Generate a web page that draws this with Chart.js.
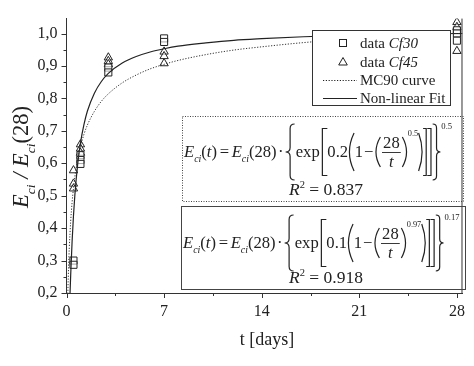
<!DOCTYPE html>
<html><head><meta charset="utf-8">
<script src="https://cdn.jsdelivr.net/npm/chart.js@4.4.0/dist/chart.umd.min.js"></script>
<style>html,body{margin:0;padding:0;background:#fff}#wrap{width:474px;height:366px}</style>
</head><body><div id="wrap"><canvas id="c" width="474" height="366"></canvas></div>
<script>
// ---- data ----
const cf30Days = [0.5, 0.5, 1, 1, 1, 3, 3, 7, 7, 28, 28, 28];
const cf30Vals = [0.30, 0.287, 0.625, 0.61, 0.598, 0.895, 0.88, 0.985, 0.974, 1.01, 1.0, 0.978];
const cf45Days = [0.5, 0.5, 0.5, 1, 1, 1, 3, 3, 3, 7, 7, 7, 28, 28, 28];
const cf45Vals = [0.578, 0.537, 0.522, 0.658, 0.645, 0.632, 0.926, 0.915, 0.905, 0.944, 0.93, 0.908, 1.035, 1.02, 0.946];
const fitDays = [0.25, 0.3, 0.4, 0.5, 0.6, 0.8, 1, 1.25, 1.5, 2, 2.5, 3, 4, 5, 6, 7, 8, 10, 12, 14, 17, 20, 24, 28, 28.4];
const fitVals = [0.195, 0.255, 0.357, 0.438, 0.502, 0.596, 0.662, 0.719, 0.761, 0.816, 0.852, 0.877, 0.909, 0.929, 0.943, 0.953, 0.961, 0.971, 0.979, 0.984, 0.990, 0.994, 0.997, 1.0, 1.0];
const mcDays = [0.09, 0.1, 0.15, 0.2, 0.3, 0.4, 0.5, 0.6, 0.8, 1, 1.25, 1.5, 2, 2.5, 3, 4, 5, 6, 7, 8, 10, 12, 14, 17, 20, 24, 28, 28.4];
const mcVals = [0.189, 0.207, 0.282, 0.339, 0.421, 0.479, 0.523, 0.558, 0.612, 0.651, 0.689, 0.718, 0.760, 0.791, 0.814, 0.848, 0.872, 0.891, 0.905, 0.917, 0.935, 0.949, 0.959, 0.972, 0.982, 0.992, 1.0, 1.0];
const xTicks = [0, 7, 14, 21, 28];
const xMinor = [3.5, 10.5, 17.5, 24.5];
const yTicks = [0.2, 0.3, 0.4, 0.5, 0.6, 0.7, 0.8, 0.9, 1.0];
const yMinor = [0.25, 0.35, 0.45, 0.55, 0.65, 0.75, 0.85, 0.95];
const legendLabels = [["data ", "Cf30"], ["data ", "Cf45"], ["MC90 curve", ""], ["Non-linear Fit", ""]];
const r2Values = ["0.837", "0.918"];

const FONT = "'Liberation Serif','Times New Roman',serif";
const INK = '#222';
const pts = (xs, ys) => xs.map((x, i) => ({x, y: ys[i]}));
const f = (it, px) => (it ? 'italic ' : '') + px.toFixed(2) + 'px ' + FONT;

// ---- equation helpers ----
function bracket(ctx, kind, x, yc, h, w) {
  const t = yc - h / 2, b = yc + h / 2;
  const close = kind === ')' || kind === ']' || kind === '}';
  ctx.save();
  if (close) { ctx.translate(x + w, 0); ctx.scale(-1, 1); x = 0; }
  ctx.beginPath();
  ctx.lineWidth = 1.2;
  const k = close ? {')':'(', ']':'[', '}':'{'}[kind] : kind;
  if (k === '(') {
    const xe = x + 0.9 * w;
    ctx.moveTo(xe, t);
    ctx.quadraticCurveTo(x - 0.5 * w, yc, xe, b);
  } else if (k === '[') {
    ctx.moveTo(x + w, t); ctx.lineTo(x + 0.25 * w, t); ctx.lineTo(x + 0.25 * w, b); ctx.lineTo(x + w, b);
  } else {
    const xm = x + 0.5 * w, xl = x + 0.05 * w, xr = x + 0.95 * w, c = 0.45 * w;
    ctx.moveTo(xr, t);
    ctx.quadraticCurveTo(xm, t, xm, t + c);
    ctx.lineTo(xm, yc - c);
    ctx.quadraticCurveTo(xm, yc, xl, yc);
    ctx.quadraticCurveTo(xm, yc, xm, yc + c);
    ctx.lineTo(xm, b - c);
    ctx.quadraticCurveTo(xm, b, xr, b);
  }
  ctx.stroke();
  ctx.restore();
}
function tokW(ctx, k, S) {
  if (k.t === 'br' || k.t === 'sp') return k.w * S;
  if (k.t === 'frac') {
    ctx.font = f(false, S); const a = ctx.measureText(k.num).width;
    ctx.font = f(true, S); const b = ctx.measureText(k.den).width;
    return Math.max(a, b) + 0.25 * S;
  }
  ctx.font = f(!!k.it, S * (k.sc || 1));
  return ctx.measureText(k.s).width;
}
function drawTokens(ctx, toks, x0, yA, S) {
  let x = x0;
  const base = yA + 0.28 * S;
  for (const k of toks) {
    const w = tokW(ctx, k, S);
    if (k.t === 'sp') { /* gap */ }
    else if (k.t === 'br') bracket(ctx, k.s, x, yA, k.h, w);
    else if (k.t === 'frac') {
      ctx.font = f(false, S); ctx.textAlign = 'center';
      ctx.fillText(k.num, x + w / 2, yA - 0.22 * S);
      ctx.font = f(true, S);
      ctx.fillText(k.den, x + w / 2, yA + 0.9 * S);
      ctx.beginPath(); ctx.lineWidth = 0.9;
      ctx.moveTo(x + 0.06 * S, yA + 0.5); ctx.lineTo(x + w - 0.06 * S, yA + 0.5); ctx.stroke();
      ctx.textAlign = 'left';
    } else {
      ctx.font = f(!!k.it, S * (k.sc || 1));
      ctx.fillText(k.s, x, base + (k.dy || 0) * S);
    }
    x += w;
  }
  return x - x0;
}
const sp = w => ({t:'sp', w});
function eqTokens(c1, pin, pout) {
  return [
    {s:'E', it:1}, {s:'ci', it:1, sc:0.6, dy:0.3}, {s:'('}, {s:'t', it:1}, {s:')'}, sp(0.16), {s:'='}, sp(0.16),
    {s:'E', it:1}, {s:'ci', it:1, sc:0.6, dy:0.3}, {s:'(28)'}, sp(0.08), {s:'·'}, sp(0.1),
    {t:'br', s:'{', h:56, w:0.6}, sp(0.04), {s:'exp'}, sp(0.06), {t:'br', s:'[', h:47, w:0.4}, {s:c1},
    {t:'br', s:'(', h:38, w:0.4}, {s:'1'}, sp(0.06), {s:'−'}, sp(0.08), {t:'br', s:'(', h:30, w:0.38},
    {t:'frac', num:'28', den:'t'}, {t:'br', s:')', h:30, w:0.36}, {s:pin, sc:0.5, dy:-1.22},
    {t:'br', s:')', h:38, w:0.3}, {t:'br', s:']', h:47, w:0.25}, {t:'br', s:']', h:47, w:0.3},
    {t:'br', s:'}', h:56, w:0.52}, sp(0.03), {s:pout, sc:0.52, dy:-1.64}
  ];
}

const deco = {
  id: 'deco',
  afterDraw(chart) {
    const ctx = chart.ctx, xs = chart.scales.x, ys = chart.scales.y, a = chart.chartArea;
    ctx.save();
    ctx.strokeStyle = '#333'; ctx.fillStyle = INK; ctx.lineWidth = 1;
    // right frame
    ctx.beginPath(); ctx.moveTo(a.right - 0.5, a.top); ctx.lineTo(a.right - 0.5, a.bottom); ctx.stroke();
    // tick marks
    ctx.beginPath();
    yTicks.forEach(v => { const y = Math.round(ys.getPixelForValue(v)) + 0.5; ctx.moveTo(a.left - 5, y); ctx.lineTo(a.left, y); });
    yMinor.forEach(v => { const y = Math.round(ys.getPixelForValue(v)) + 0.5; ctx.moveTo(a.left - 3, y); ctx.lineTo(a.left, y); });
    xTicks.forEach(v => { const x = Math.round(xs.getPixelForValue(v)) + 0.5; ctx.moveTo(x, a.bottom); ctx.lineTo(x, a.bottom + 5); });
    xMinor.forEach(v => { const x = Math.round(xs.getPixelForValue(v)) + 0.5; ctx.moveTo(x, a.bottom); ctx.lineTo(x, a.bottom + 3); });
    ctx.stroke();

    // axis titles
    ctx.textBaseline = 'alphabetic';
    ctx.font = f(false, 18);
    ctx.textAlign = 'center';
    ctx.fillText('t [days]', 267, 345);
    ctx.textAlign = 'left';
    const yt = [{s:'E', it:1}, {s:'ci', it:1, sc:0.6, dy:0.3}, {s:' / ', it:1}, {s:'E', it:1}, {s:'ci', it:1, sc:0.6, dy:0.3}, {s:'(28)'}];
    let tw = 0; yt.forEach(k => tw += tokW(ctx, k, 22.5));
    ctx.save(); ctx.translate(20, 157); ctx.rotate(-Math.PI / 2);
    drawTokens(ctx, yt, -tw / 2, 1.5, 22.5);
    ctx.restore();

    // legend
    ctx.fillStyle = '#fff'; ctx.fillRect(312, 30, 139, 75);
    ctx.strokeStyle = '#333'; ctx.lineWidth = 1;
    ctx.strokeRect(312.5, 30.5, 138, 75);
    ctx.fillStyle = INK; ctx.strokeStyle = INK;
    const rows = [43, 62, 80, 98];
    ctx.strokeRect(339.5, rows[0] - 3.5, 7, 7);
    ctx.beginPath(); ctx.moveTo(343, rows[1] - 4.5); ctx.lineTo(347.3, rows[1] + 3); ctx.lineTo(338.7, rows[1] + 3); ctx.closePath(); ctx.stroke();
    ctx.save(); ctx.setLineDash([1.2, 1.6]); ctx.beginPath(); ctx.moveTo(323, rows[2] + 0.5); ctx.lineTo(357, rows[2] + 0.5); ctx.stroke(); ctx.restore();
    ctx.beginPath(); ctx.lineWidth = 1.2; ctx.moveTo(323, rows[3] + 0.5); ctx.lineTo(357, rows[3] + 0.5); ctx.stroke();
    ctx.textBaseline = 'middle';
    legendLabels.forEach((l, i) => {
      ctx.font = f(false, 15); ctx.fillText(l[0], 360, rows[i] + 1);
      if (l[1]) { const w = ctx.measureText(l[0]).width; ctx.font = f(true, 15); ctx.fillText(l[1], 360 + w, rows[i] + 1); }
    });
    ctx.textBaseline = 'alphabetic';

    // equation boxes
    ctx.lineWidth = 1; ctx.strokeStyle = '#444';
    ctx.save(); ctx.setLineDash([1, 1.5]); ctx.strokeRect(182.5, 116.5, 281, 85); ctx.restore();
    ctx.strokeRect(181.5, 206.5, 284, 83);
    ctx.strokeStyle = INK; ctx.fillStyle = INK;
    drawTokens(ctx, eqTokens('0.2', '0.5', '0.5'), 184, 152, 16.6);
    drawTokens(ctx, eqTokens('0.1', '0.97', '0.17'), 183, 243, 16.6);
    // R^2 lines
    [[195, 0], [283, 1]].forEach(([yb, i]) => {
      const toks = [{s:'R', it:1}, {s:'2', sc:0.6, dy:-0.42}, sp(0.25), {s:'='}, sp(0.25), {s:r2Values[i]}];
      let w = 0; toks.forEach(k => w += tokW(ctx, k, 17.5));
      drawTokens(ctx, toks, 326 - w / 2, yb - 0.28 * 17.5, 17.5);
    });
    ctx.restore();
  }
};

new Chart(document.getElementById('c'), {
  type: 'scatter',
  data: {
    datasets: [
      {label: 'MC90 curve', data: pts(mcDays, mcVals), showLine: true, pointRadius: 0, borderColor: '#333', borderWidth: 1, borderDash: [1.2, 1.6], cubicInterpolationMode: 'monotone', fill: false},
      {label: 'Non-linear Fit', data: pts(fitDays, fitVals), showLine: true, pointRadius: 0, borderColor: '#222', borderWidth: 1.2, cubicInterpolationMode: 'monotone', fill: false},
      {label: 'data Cf30', data: pts(cf30Days, cf30Vals), pointStyle: 'rect', pointRadius: 5, pointBackgroundColor: 'rgba(255,255,255,0.6)', pointBorderColor: '#222', pointBorderWidth: 1},
      {label: 'data Cf45', data: pts(cf45Days, cf45Vals), pointStyle: 'triangle', pointRadius: 4.8, pointBackgroundColor: 'rgba(255,255,255,0.6)', pointBorderColor: '#222', pointBorderWidth: 1}
    ]
  },
  options: {
    responsive: false, animation: false, devicePixelRatio: 1, events: [],
    layout: {padding: {left: 0, right: 6.5, top: 0, bottom: 0}},
    plugins: {legend: {display: false}, tooltip: {enabled: false}},
    scales: {
      x: {
        type: 'linear', min: 0, max: 28.4,
        afterBuildTicks: s => { s.ticks = xTicks.map(v => ({value: v})); },
        afterFit: s => { s.height = 73; },
        grid: {display: false, drawTicks: false},
        border: {display: true, color: '#333', width: 1},
        ticks: {font: {family: FONT, size: 16}, color: INK, padding: 9, maxRotation: 0, callback: v => String(v)}
      },
      y: {
        type: 'linear', min: 0.2, max: 1.046,
        afterBuildTicks: s => { s.ticks = yTicks.map(v => ({value: v})); },
        afterFit: s => { s.width = 66.5; },
        grid: {display: false, drawTicks: false},
        border: {display: true, color: '#333', width: 1},
        ticks: {font: {family: FONT, size: 16}, color: INK, padding: 9, callback: v => v.toFixed(1).replace('.', ',')}
      }
    }
  },
  plugins: [deco]
});
</script>
</body></html>
